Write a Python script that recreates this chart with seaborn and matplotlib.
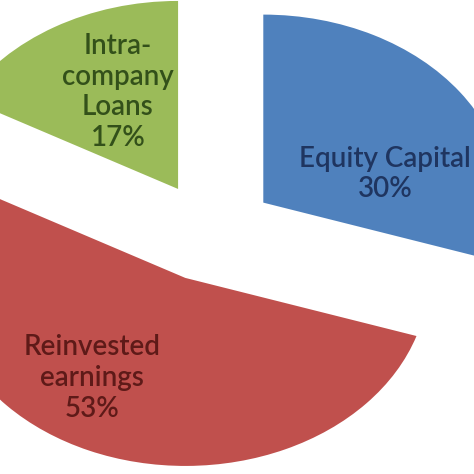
import matplotlib
matplotlib.use("Agg")
from matplotlib import pyplot as plt
import seaborn as sb

# data
labels = ['Equity Capital', 'Reinvested\nearnings', 'Intra-\ncompany\nLoans']
shares = [30, 53, 17]
colors = ['#4f81bd', '#c0504d', '#9bbb59']
text_colors = ['#1f3560', '#5e1a18', '#33501a']

# where each label sits (data coords, pie radius = 1)
label_pos = [(0.716, 0.309), (-0.490, -0.777), (-0.383, 0.745)]

sb.set_style('white')
plt.rcParams['font.family'] = ['Lato', 'DejaVu Sans']

fig = plt.figure(figsize=(4.74, 4.74), dpi=100)
ax = fig.add_axes([0, 0, 1, 1])

ax.pie(shares, colors=colors, startangle=90, counterclock=False,
       explode=[0.266] * len(shares), wedgeprops=dict(linewidth=0))

for lab, val, (x, y), tc in zip(labels, shares, label_pos, text_colors):
    ax.text(x, y, '%s\n%d%%' % (lab, val), ha='center', va='center',
            fontsize=20, fontweight='semibold', color=tc, linespacing=1.22)

# the picture is stretched sideways and cropped
ax.set_aspect('auto')
ax.set_xlim(-0.868, 1.082)
ax.set_ylim(-1.287, 1.234)
ax.axis('off')

fig.savefig('out.png', dpi=100)
